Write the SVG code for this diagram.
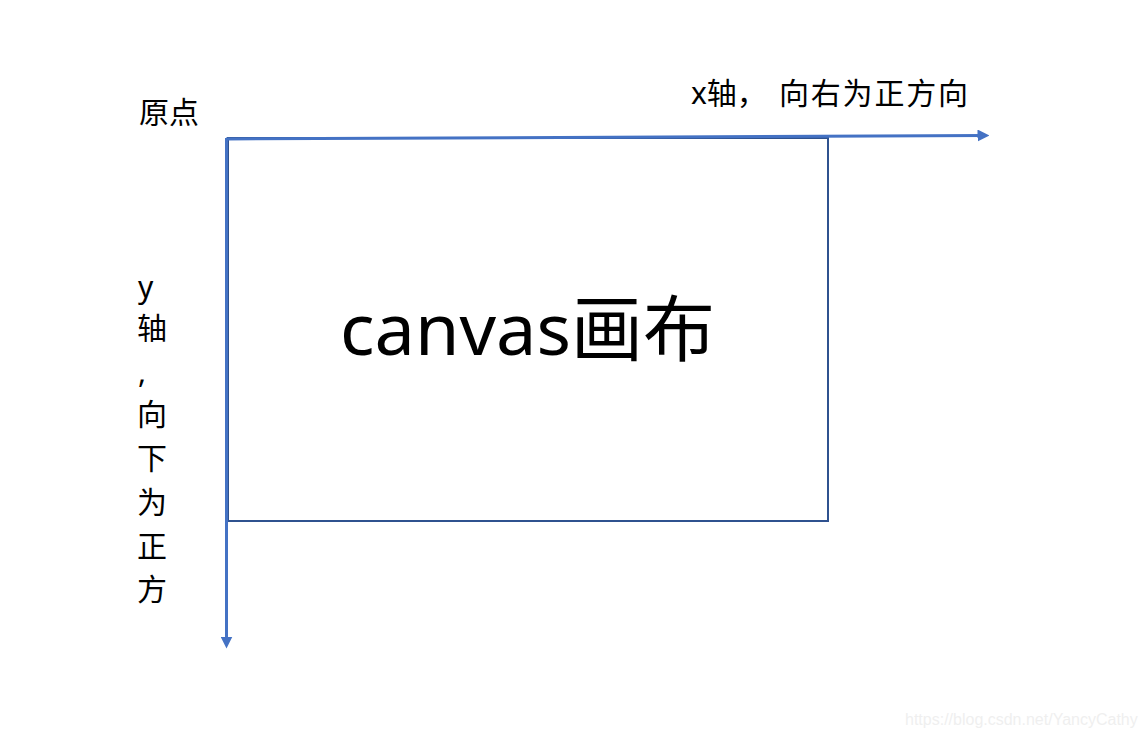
<svg xmlns="http://www.w3.org/2000/svg" width="1146" height="738" viewBox="0 0 1146 738">
<style>
.lbl{font-family:"Noto Sans","Noto Sans CJK SC",sans-serif;font-size:30px;fill:#000}
.axis{stroke:#4472C4;stroke-width:3;fill:none}
</style>
<defs>
<marker id="ah" markerWidth="4" markerHeight="4" refX="2.5" refY="2" orient="auto" markerUnits="strokeWidth">
<path d="M0,0 L4,2 L0,4 Z" fill="#4472C4"/>
</marker>
</defs>
<rect width="1146" height="738" fill="#fff"/>
<g id="canvas">
<rect x="228" y="138" width="600" height="383" fill="none" stroke="#2F528F" stroke-width="2"/>
<text x="340" y="355" font-family="'Noto Sans','Noto Sans CJK SC',sans-serif" font-size="72" fill="#000">canvas画布</text>
</g>
<g id="connectors">
<line class="axis" x1="226" y1="139" x2="985" y2="135.5" marker-end="url(#ah)"/>
<line class="axis" x1="226.5" y1="138" x2="226.5" y2="644" marker-end="url(#ah)"/>
</g>
<g id="origin"><text class="lbl" x="139" y="123">原点</text></g>
<g id="xlabel"><text class="lbl" x="691" y="104">x轴， <tspan x="779" textLength="189" lengthAdjust="spacing">向右为正方向</tspan></text></g>
<g id="ylabel">
<text class="lbl" x="138" y="298">y</text>
<text class="lbl" x="137" y="339">轴</text>
<text class="lbl" x="138" y="383">,</text>
<text class="lbl" x="137" y="425">向</text>
<text class="lbl" x="137" y="469">下</text>
<text class="lbl" x="137" y="513">为</text>
<text class="lbl" x="137" y="557">正</text>
<text class="lbl" x="137" y="600">方</text>
</g>
<text x="905" y="725" font-family="'Liberation Sans',sans-serif" font-size="16" fill="#efefef">https://blog.csdn.net/YancyCathy</text>
</svg>
